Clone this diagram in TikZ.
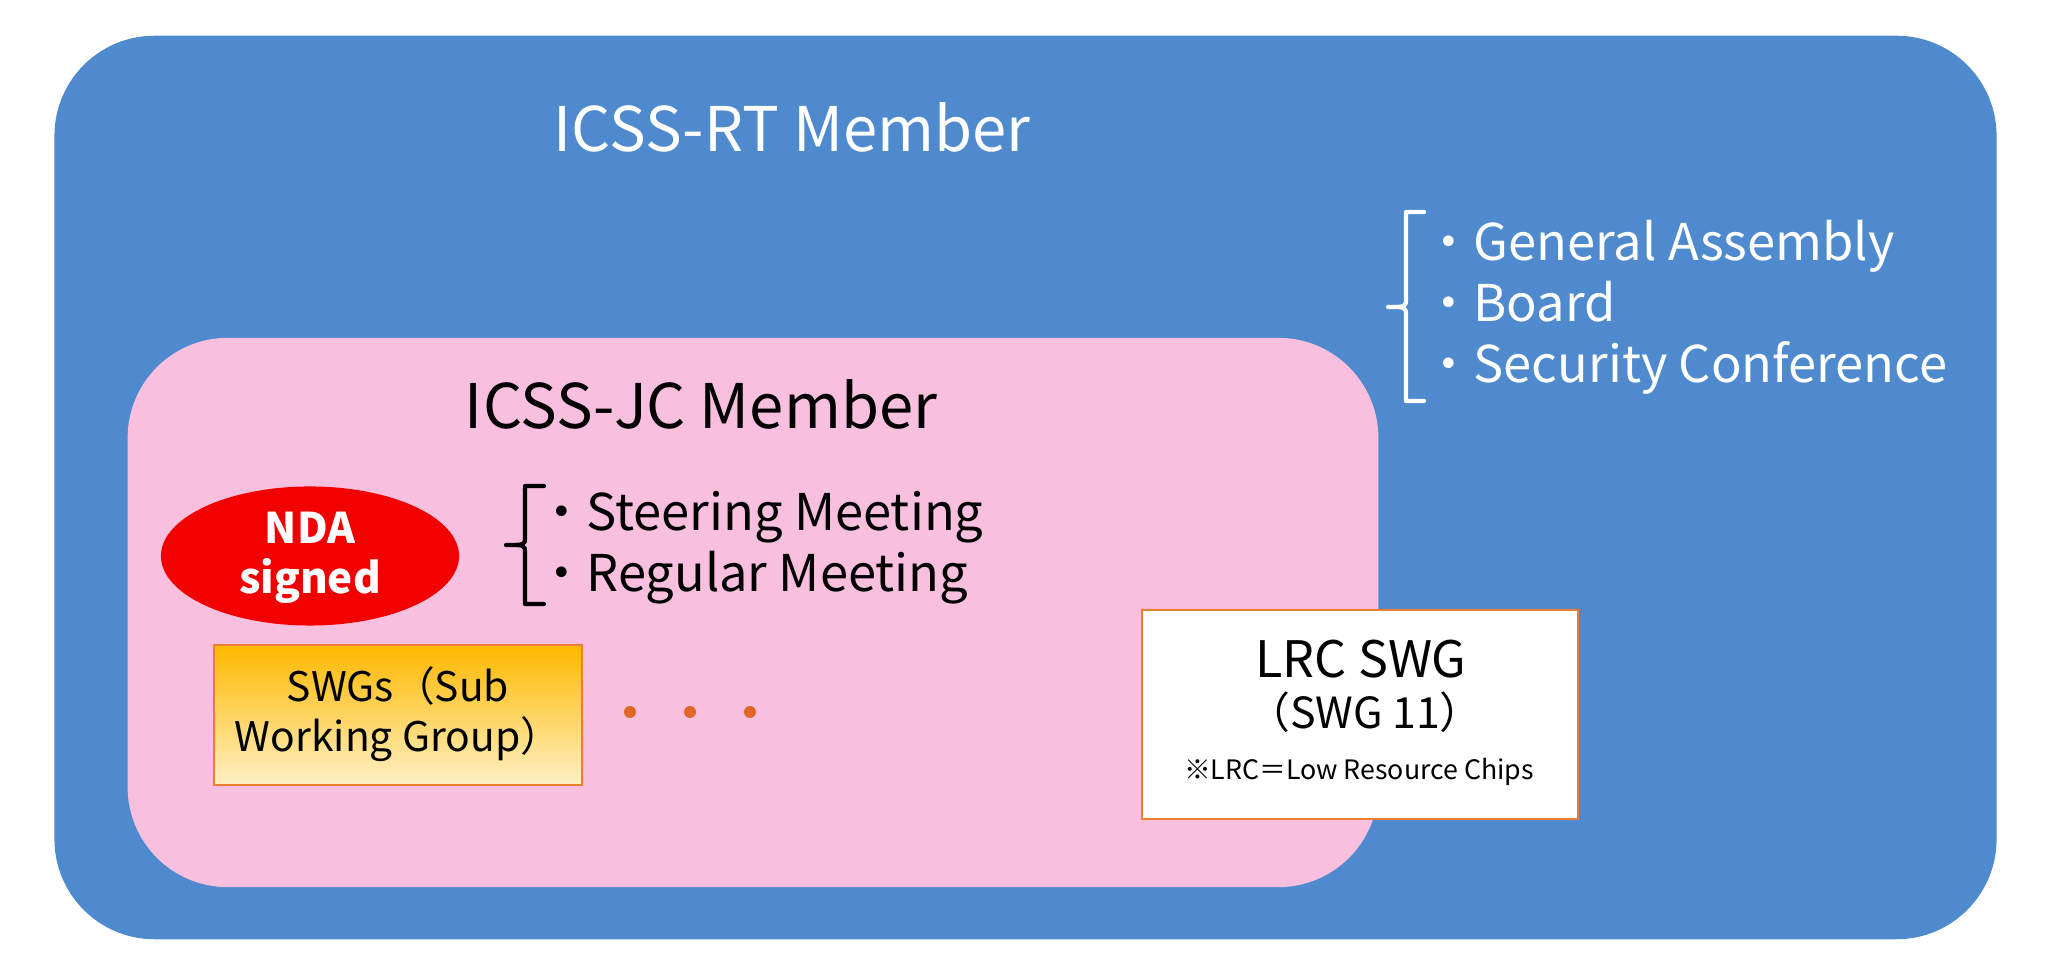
\documentclass[tikz,border=0pt]{standalone}
\usepackage{fontspec}
\setmainfont{Noto Sans CJK JP}
\usetikzlibrary{shapes.geometric}
\definecolor{rtblue}{HTML}{4E8ACD}
\definecolor{jcpink}{HTML}{F9BFDF}
\definecolor{ndared}{HTML}{F20000}
\definecolor{edgeorange}{HTML}{ED7D31}
\definecolor{swgtop}{HTML}{FFB800}
\definecolor{swgbot}{HTML}{FFF0C4}
\definecolor{dotorange}{HTML}{E0672A}
\newcommand{\fsz}[1]{\fontsize{#1pt}{#1pt}\selectfont}
\tikzset{
  areabox/.style={rectangle, inner sep=0, rounded corners=1cm},
  txt/.style={inner sep=0, outer sep=0},
  bracestyle/.style={line width=1.2pt, line join=round, line cap=round},
  dotnode/.style={circle, fill=dotorange, inner sep=0, minimum size=0.12cm},
}
\begin{document}
\begin{tikzpicture}[x=0.01cm, y=-0.01cm]
\useasboundingbox (0,0) rectangle (2048,974);
% outer area
\node[areabox, fill=rtblue, minimum width=19.41cm, minimum height=9.03cm] (rt) at (1025.5,487.5) {};
\node[txt, anchor=base, text=white] (rttitle) at (792,152) {\fsz{17.5}ICSS-RT Member};
% right list
\node[txt, anchor=base west, text=white] (ga) at (1423,261) {\fsz{14.4}・General Assembly};
\node[txt, anchor=base west, text=white] (bd) at (1423,322) {\fsz{14.4}・Board};
\node[txt, anchor=base west, text=white] (sc) at (1423,383) {\fsz{14.4}・Security Conference};
\coordinate (rbt) at (1424,212);
\coordinate (rbb) at (1424,401);
\coordinate (rbtip) at (1388,307);
\draw[bracestyle, white] (rbt) -- (1406,212) -- (1406,298) .. controls (1406,307) .. (rbtip) .. controls (1406,307) .. (1406,316) -- (1406,401) -- (rbb);
% inner area
\node[areabox, fill=jcpink, minimum width=12.5cm, minimum height=5.49cm] (jc) at (753,612.5) {};
\node[txt, anchor=base] (jctitle) at (701,429) {\fsz{17.5}ICSS-JC Member};
% NDA ellipse
\node[ellipse, fill=ndared, inner sep=0, minimum width=2.98cm, minimum height=1.39cm] (nda) at (310,556) {};
\node[txt, anchor=base, text=white, font=\bfseries] (ndat1) at (310,544) {\fsz{12}NDA};
\node[txt, anchor=base, text=white, font=\bfseries] (ndat2) at (310,594) {\fsz{12}signed};
% meetings
\node[txt, anchor=base west] (stm) at (536,531) {\fsz{14.4}・Steering Meeting};
\node[txt, anchor=base west] (rgm) at (536,592) {\fsz{14.4}・Regular Meeting};
\coordinate (ibt) at (544,486);
\coordinate (ibb) at (544,604);
\coordinate (ibtip) at (506,545);
\draw[bracestyle, black] (ibt) -- (525,486) -- (525,537) .. controls (525,545) .. (ibtip) .. controls (525,545) .. (525,553) -- (525,604) -- (ibb);
% SWGs box
\node[rectangle, draw=edgeorange, line width=0.6pt, top color=swgtop, bottom color=swgbot, inner sep=0, minimum width=3.68cm, minimum height=1.40cm] (swg) at (398,715) {};
\node[txt, anchor=base] (swgt1) at (398,702) {\fsz{11.6}SWGs（Sub};
\node[txt, anchor=base] (swgt2) at (398,752) {\fsz{11.6}Working Group）};
% dots
\node[dotnode] (d1) at (630,712) {};
\node[dotnode] (d2) at (690,712) {};
\node[dotnode] (d3) at (750,712) {};
% LRC box
\node[rectangle, draw=edgeorange, line width=0.6pt, fill=white, inner sep=0, minimum width=4.36cm, minimum height=2.09cm] (lrc) at (1360,714.5) {};
\node[txt, anchor=base] (lrct1) at (1361,678) {\fsz{14.3}LRC SWG};
\node[txt, anchor=base] (lrct2) at (1365,729) {\fsz{12.2}（SWG 11）};
\node[txt, anchor=base] (lrct3) at (1359,780) {\fsz{7.6}※LRC＝Low Resource Chips};
\end{tikzpicture}
\end{document}
